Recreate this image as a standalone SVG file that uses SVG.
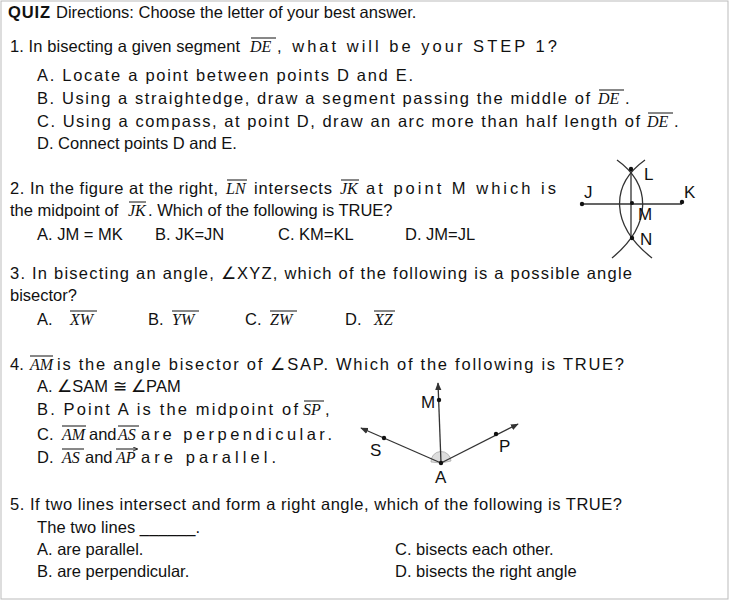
<svg xmlns="http://www.w3.org/2000/svg" width="731" height="601" viewBox="0 0 731 601">
<style>
text{font-family:"Liberation Sans",Arial,sans-serif;font-size:16.5px;fill:#111}
.m{font-family:"Liberation Serif","Times New Roman",serif;font-style:italic;font-size:16px}
.lb{font-size:17px}
.ov{stroke:#111;stroke-width:1;fill:none}
.ln{stroke:#333;stroke-width:1.3;fill:none}
</style>
<defs>
<marker id="va" viewBox="0 0 6 6" refX="5" refY="3" markerWidth="5" markerHeight="5" orient="auto"><path d="M0,0.5 L6,3 L0,5.5" fill="none" stroke="#111" stroke-width="1"/></marker>
<marker id="ah" viewBox="0 0 10 10" refX="9" refY="5" markerWidth="6" markerHeight="6" orient="auto"><path d="M0,1 L10,5 L0,9 z" fill="#333"/></marker>
</defs>
<rect x="0" y="0" width="731" height="601" fill="#fff"/>
<rect x="1" y="1" width="727" height="598" fill="none" stroke="#bbb" stroke-width="1"/>
<g id="text">
<text x="8" y="18" font-weight="bold" textLength="42">QUIZ</text>
<text x="56" y="18">Directions: Choose the letter of your best answer.</text>
<text x="10" y="52" textLength="230">1. In bisecting a given segment</text>
<text class="m" x="250" y="52">DE</text>
<text x="277" y="52" textLength="280">, what will be your STEP 1?</text>
<text x="37" y="81" textLength="376">A.  Locate a point between points D and E.</text>
<text x="37" y="104" textLength="553">B.  Using a straightedge, draw a segment passing the middle of</text>
<text class="m" x="598" y="104">DE</text><text x="625" y="104">.</text>
<text x="37" y="127" textLength="603">C.  Using a compass, at point D, draw an arc more than half length of</text>
<text class="m" x="647" y="127">DE</text><text x="674" y="127">.</text>
<text x="37" y="149">D.  Connect points D and E.</text>
<text x="10" y="194" textLength="208">2.  In the figure at the right,</text>
<text class="m" x="226" y="194">LN</text>
<text x="254" y="194" textLength="78">intersects</text>
<text class="m" x="340" y="194">JK</text>
<text x="366" y="194" textLength="190">at point M which is</text>
<text x="10" y="216">the midpoint of</text>
<text class="m" x="128" y="216">JK</text>
<text x="148" y="216">. Which of the following is TRUE?</text>
<text x="37" y="240">A.  JM = MK</text>
<text x="155" y="240">B.  JK=JN</text>
<text x="278" y="240">C.  KM=KL</text>
<text x="405" y="240">D.  JM=JL</text>
<text x="10" y="279" textLength="622">3.  In bisecting an angle, ∠XYZ, which of the following is a possible angle</text>
<text x="10" y="301">bisector?</text>
<text x="37" y="325">A.</text><text class="m" x="70" y="325">XW</text>
<text x="148" y="325">B.</text><text class="m" x="172" y="325">YW</text>
<text x="245" y="325">C.</text><text class="m" x="270" y="325">ZW</text>
<text x="345" y="325">D.</text><text class="m" x="374" y="325">XZ</text>
<text x="10" y="370">4.</text><text class="m" x="30" y="370">AM</text>
<text x="57" y="370" textLength="567">is the angle bisector of ∠SAP. Which of the following is TRUE?</text>
<text x="37" y="392">A.  ∠SAM ≅ ∠PAM</text>
<text x="37" y="415" textLength="261">B.  Point A is the midpoint of</text>
<text class="m" x="303" y="415">SP</text><text x="325" y="415">,</text>
<text x="37" y="440">C.</text><text class="m" x="62" y="440">AM</text>
<text x="89" y="440">and</text><text class="m" x="118" y="440">AS</text>
<text x="141" y="440" textLength="191">are perpendicular.</text>
<text x="37" y="463">D.</text><text class="m" x="62" y="463">AS</text>
<text x="85" y="463">and</text><text class="m" x="116" y="463">AP</text>
<text x="141" y="463" textLength="135">are parallel.</text>
<text x="10" y="510" textLength="612">5.  If two lines intersect and form a right angle, which of the following is TRUE?</text>
<text x="37" y="533" textLength="163">The two lines ______.</text>
<text x="37" y="555">A.  are parallel.</text>
<text x="395" y="555">C.  bisects each other.</text>
<text x="37" y="577">B.  are perpendicular.</text>
<text x="395" y="577">D.  bisects the right angle</text>
</g>
<g id="overlines" class="ov">
<path d="M251,38 H276 M599,90 H624 M648,113 H673 M227,180 H247 M341,180 H359 M129,202 H146 M304,401 H324"/>
<path d="M70,311 H97 M172,311 H199 M270,311 H297 M374,311 H395 M30,356 H53 M62,426 H86 M118,426 H139 M62,449 H84 M116,449 H137" marker-end="url(#va)"/>
</g>
<g id="figure-bisector">
<path class="ln" d="M582,204 H682 M631,169 V238"/>
<path class="ln" d="M617,160 C652,185 652,225 612,258"/>
<path class="ln" d="M645,160 C610,185 610,225 652,258"/>
<circle cx="631" cy="169" r="2.2" fill="#111"/>
<circle cx="632" cy="238" r="2.2" fill="#111"/>
<circle cx="632" cy="203" r="2" fill="#111"/>
<circle cx="582" cy="204" r="2.2" fill="#111"/>
<circle cx="682" cy="202" r="2.2" fill="#111"/>
<text class="lb" x="644" y="180">L</text>
<text class="lb" x="584" y="198">J</text>
<text class="lb" x="684" y="198">K</text>
<text class="lb" x="638" y="220">M</text>
<text class="lb" x="640" y="245">N</text>
</g>
<g id="figure-angle">
<path d="M431,462 A10,10 0 0 1 451,461 L441,463 z" fill="#ddd" stroke="#aaa" stroke-width="0.8"/>
<path class="ln" d="M441,463 L438,383" marker-end="url(#ah)"/>
<path class="ln" d="M441,463 L361,428" marker-end="url(#ah)"/>
<path class="ln" d="M441,463 L518,424" marker-end="url(#ah)"/>
<circle cx="441" cy="463" r="2.2" fill="#111"/>
<circle cx="439" cy="400" r="2.2" fill="#111"/>
<circle cx="384" cy="438" r="2.2" fill="#111"/>
<circle cx="496" cy="434" r="2.2" fill="#111"/>
<text class="lb" x="421" y="408" font-size="15">M</text>
<text class="lb" x="370" y="456" font-size="15">S</text>
<text class="lb" x="499" y="452" font-size="15">P</text>
<text class="lb" x="435" y="483" font-size="15">A</text>
</g>
</svg>
